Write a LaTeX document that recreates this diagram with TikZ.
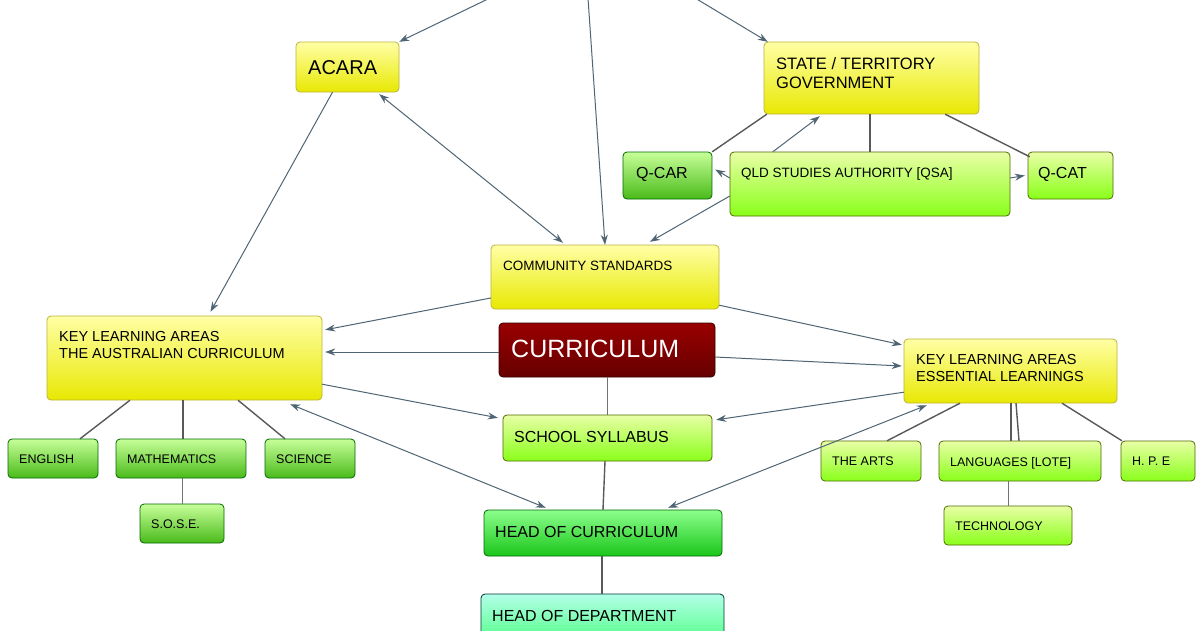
\documentclass[tikz,border=0pt]{standalone}
\usepackage{fontspec}
\setmainfont{Liberation Sans}
\usetikzlibrary{arrows.meta}
\definecolor{slate}{HTML}{506574}
\begin{document}
\begin{tikzpicture}[x=1pt,y=-1pt,
 box/.style={draw=#1!70!black, rounded corners=4pt, line width=0.8pt, inner sep=0pt},
 yel/.style={box=yellow, top color=yellow!35, bottom color=yellow!80!olive!90},
 grn/.style={box=green!60!black, top color=green!40!lime!40, bottom color=green!60!lime!70!black!90},
 lim/.style={box=lime!60!black, top color=lime!35, bottom color=lime!65!green!90},
 hoc/.style={box=green!60!black, top color=green!45, bottom color=green!75!black!90},
 hod/.style={box=teal!60!black, top color=green!30!cyan!30, bottom color=green!70!cyan!70},
 red/.style={box=red!30!black, top color=red!60!black, bottom color=red!40!black},
 txt/.style={anchor=north west, inner sep=0pt, align=left, font=\fontsize{#1}{#1}\selectfont},
 arr/.style={draw=slate, line width=1pt, -{Stealth[length=10pt,width=7pt]}},
 darr/.style={arr, {Stealth[length=10pt,width=7pt]}-{Stealth[length=10pt,width=7pt]}},
 ln/.style={draw=black!65, line width=1.4pt},
 thin/.style={draw=black!55, line width=0.7pt}]
\useasboundingbox (0,0) rectangle (1200,630);
\clip (0,0) rectangle (1200,630);
\fill[white] (0,0) rectangle (1200,630);
\newcommand\bx[6]{\path[#2] (#3,#4) rectangle (#5,#6); \node[inner sep=0pt, minimum width={#5-#3}, minimum height={#6-#4}] (#1) at ({(#3+#5)/2},{(#4+#6)/2}) {};}
\bx{acara}{yel}{296}{42}{399}{92}
\bx{state}{yel}{764}{42}{979}{114}
\bx{qcar}{grn}{623}{152}{712}{199}
\bx{qsa}{lim}{730}{152}{1010}{216}
\bx{qcat}{lim}{1028}{152}{1113}{199}
\bx{comm}{yel}{491}{245}{719}{309}
\bx{klaa}{yel}{47}{316}{322}{400}
\bx{cur}{red}{499}{323}{715}{377}
\bx{klae}{yel}{904}{339}{1117}{403}
\bx{sch}{lim}{503}{415}{712}{461}
\bx{eng}{grn}{8}{439}{98}{478}
\bx{math}{grn}{116}{439}{246}{478}
\bx{sci}{grn}{265}{439}{355}{478}
\bx{sose}{grn}{140}{504}{224}{543}
\bx{arts}{lim}{821}{441}{921}{481}
\bx{lang}{lim}{939}{441}{1101}{481}
\bx{hpe}{lim}{1121}{441}{1195}{481}
\bx{tech}{lim}{944}{506}{1072}{545}
\bx{hocur}{hoc}{484}{510}{722}{556}
\bx{hod}{hod}{481}{594}{724}{645}
\node[txt=20] at (308,60) {ACARA};
\node[txt=16.5] at (776,57) {STATE / TERRITORY\\[3pt]GOVERNMENT};
\node[txt=16] at (636,167) {Q-CAR};
\node[txt=13.5] at (741,168) {QLD STUDIES AUTHORITY [QSA]};
\node[txt=16] at (1038,167) {Q-CAT};
\node[txt=13.5] at (503,261) {COMMUNITY STANDARDS};
\node[txt=14.5] at (59,331) {KEY LEARNING AREAS\\[3pt]THE AUSTRALIAN CURRICULUM};
\node[txt=25, text=white] at (511,340) {CURRICULUM};
\node[txt=14.5] at (916,354) {KEY LEARNING AREAS\\[3pt]ESSENTIAL LEARNINGS};
\node[txt=16] at (514,431) {SCHOOL SYLLABUS};
\node[txt=12.5] at (19,455) {ENGLISH};
\node[txt=12.5] at (127,455) {MATHEMATICS};
\node[txt=12.5] at (276,455) {SCIENCE};
\node[txt=12.5] at (151,520) {S.O.S.E.};
\node[txt=12.5] at (832,457) {THE ARTS};
\node[txt=12.5] at (950,457) {LANGUAGES [LOTE]};
\node[txt=12.5] at (1132,457) {H. P. E};
\node[txt=12.5] at (955,522) {TECHNOLOGY};
\node[txt=16] at (495,526) {HEAD OF CURRICULUM};
\node[txt=16] at (492,610) {HEAD OF DEPARTMENT};
\coordinate (top1) at (490,-2);
\coordinate (top2) at (588,-2);
\coordinate (top3) at (695,-2);
\draw[arr] (top1) -- (acara.north east);
\draw[arr] (top2) -- (comm.north);
\draw[arr] (top3) -- ([xshift=4pt]state.north west);
\draw[arr] ([xshift=-15pt]acara.south) -- ([xshift=26pt,yshift=4pt]klaa.north);
\draw[darr] ([xshift=-20pt,yshift=-2pt]acara.south east) -- ([xshift=-42pt,yshift=2pt]comm.north);
\draw[ln] ([xshift=3pt]state.south west) -- (qcar.north east);
\draw[arr] ([xshift=43pt]qsa.north west) -- ([xshift=56pt,yshift=-2pt]state.south west);
\draw[ln] (state.south -| 870,0) -- (qsa.north -| 870,0);
\draw[ln] ([xshift=-34pt]state.south east) -- ([xshift=2pt,yshift=-5pt]qcat.north west);
\draw[arr] ([yshift=6pt]qsa.west) -- ([xshift=3pt,yshift=6pt]qcar.east);
\draw[arr] ([yshift=6pt]qsa.east) -- ([xshift=-3pt]qcat.west);
\draw[arr] ([yshift=-12pt]qsa.west) -- ([xshift=45pt,yshift=3pt]comm.north);
\draw[arr] ([yshift=-21pt]comm.west) -- ([xshift=3pt,yshift=-14pt]klaa.north east);
\draw[arr] ([yshift=4pt]comm.south east) -- ([yshift=-6pt,xshift=-2pt]klae.north west);
\draw[arr] ([yshift=-2pt]cur.west) -- ([xshift=3pt]klaa.east |- 0,352);
\draw[arr] ([yshift=-7pt]cur.east) -- ([xshift=-2pt]klae.west |- 0,366);
\draw[thin] (cur.south -| 607,0) -- (sch.north -| 607,0);
\draw[arr] ([yshift=16pt]klaa.south east) -- ([xshift=-5pt,yshift=-3pt]sch.north west);
\draw[arr] ([yshift=11pt]klae.south west) -- ([xshift=4pt,yshift=-5pt]sch.north east);
\draw[ln] (sch.south -| 605,0) -- (hocur.north -| 603,0);
\draw[darr] ([xshift=62pt,yshift=2pt]hocur.north west) -- ([xshift=-32pt,yshift=-4pt]klaa.south east);
\draw[darr] ([xshift=-54pt,yshift=2pt]hocur.north east) -- ([xshift=23pt,yshift=-2pt]klae.south west);
\draw[ln] (hocur.south -| 602,0) -- (hod.north -| 602,0);
\draw[ln] (klaa.south -| 130,0) -- (eng.north -| 80,0);
\draw[ln] (klaa.south -| 183,0) -- (math.north -| 183,0);
\draw[ln] (klaa.south -| 238,0) -- (sci.north -| 285,0);
\draw[thin] (math.south -| 182,0) -- (sose.north -| 182,0);
\draw[ln] (klae.south -| 960,0) -- (arts.north -| 887,0);
\draw[ln] (klae.south -| 1011,0) -- (lang.north -| 1011,0);
\draw[ln] (klae.south -| 1016,0) -- (lang.north -| 1019,0);
\draw[ln] (klae.south -| 1062,0) -- (hpe.north -| 1122,0);
\draw[thin] (lang.south -| 1008,0) -- (tech.north -| 1008,0);
\end{tikzpicture}
\end{document}
